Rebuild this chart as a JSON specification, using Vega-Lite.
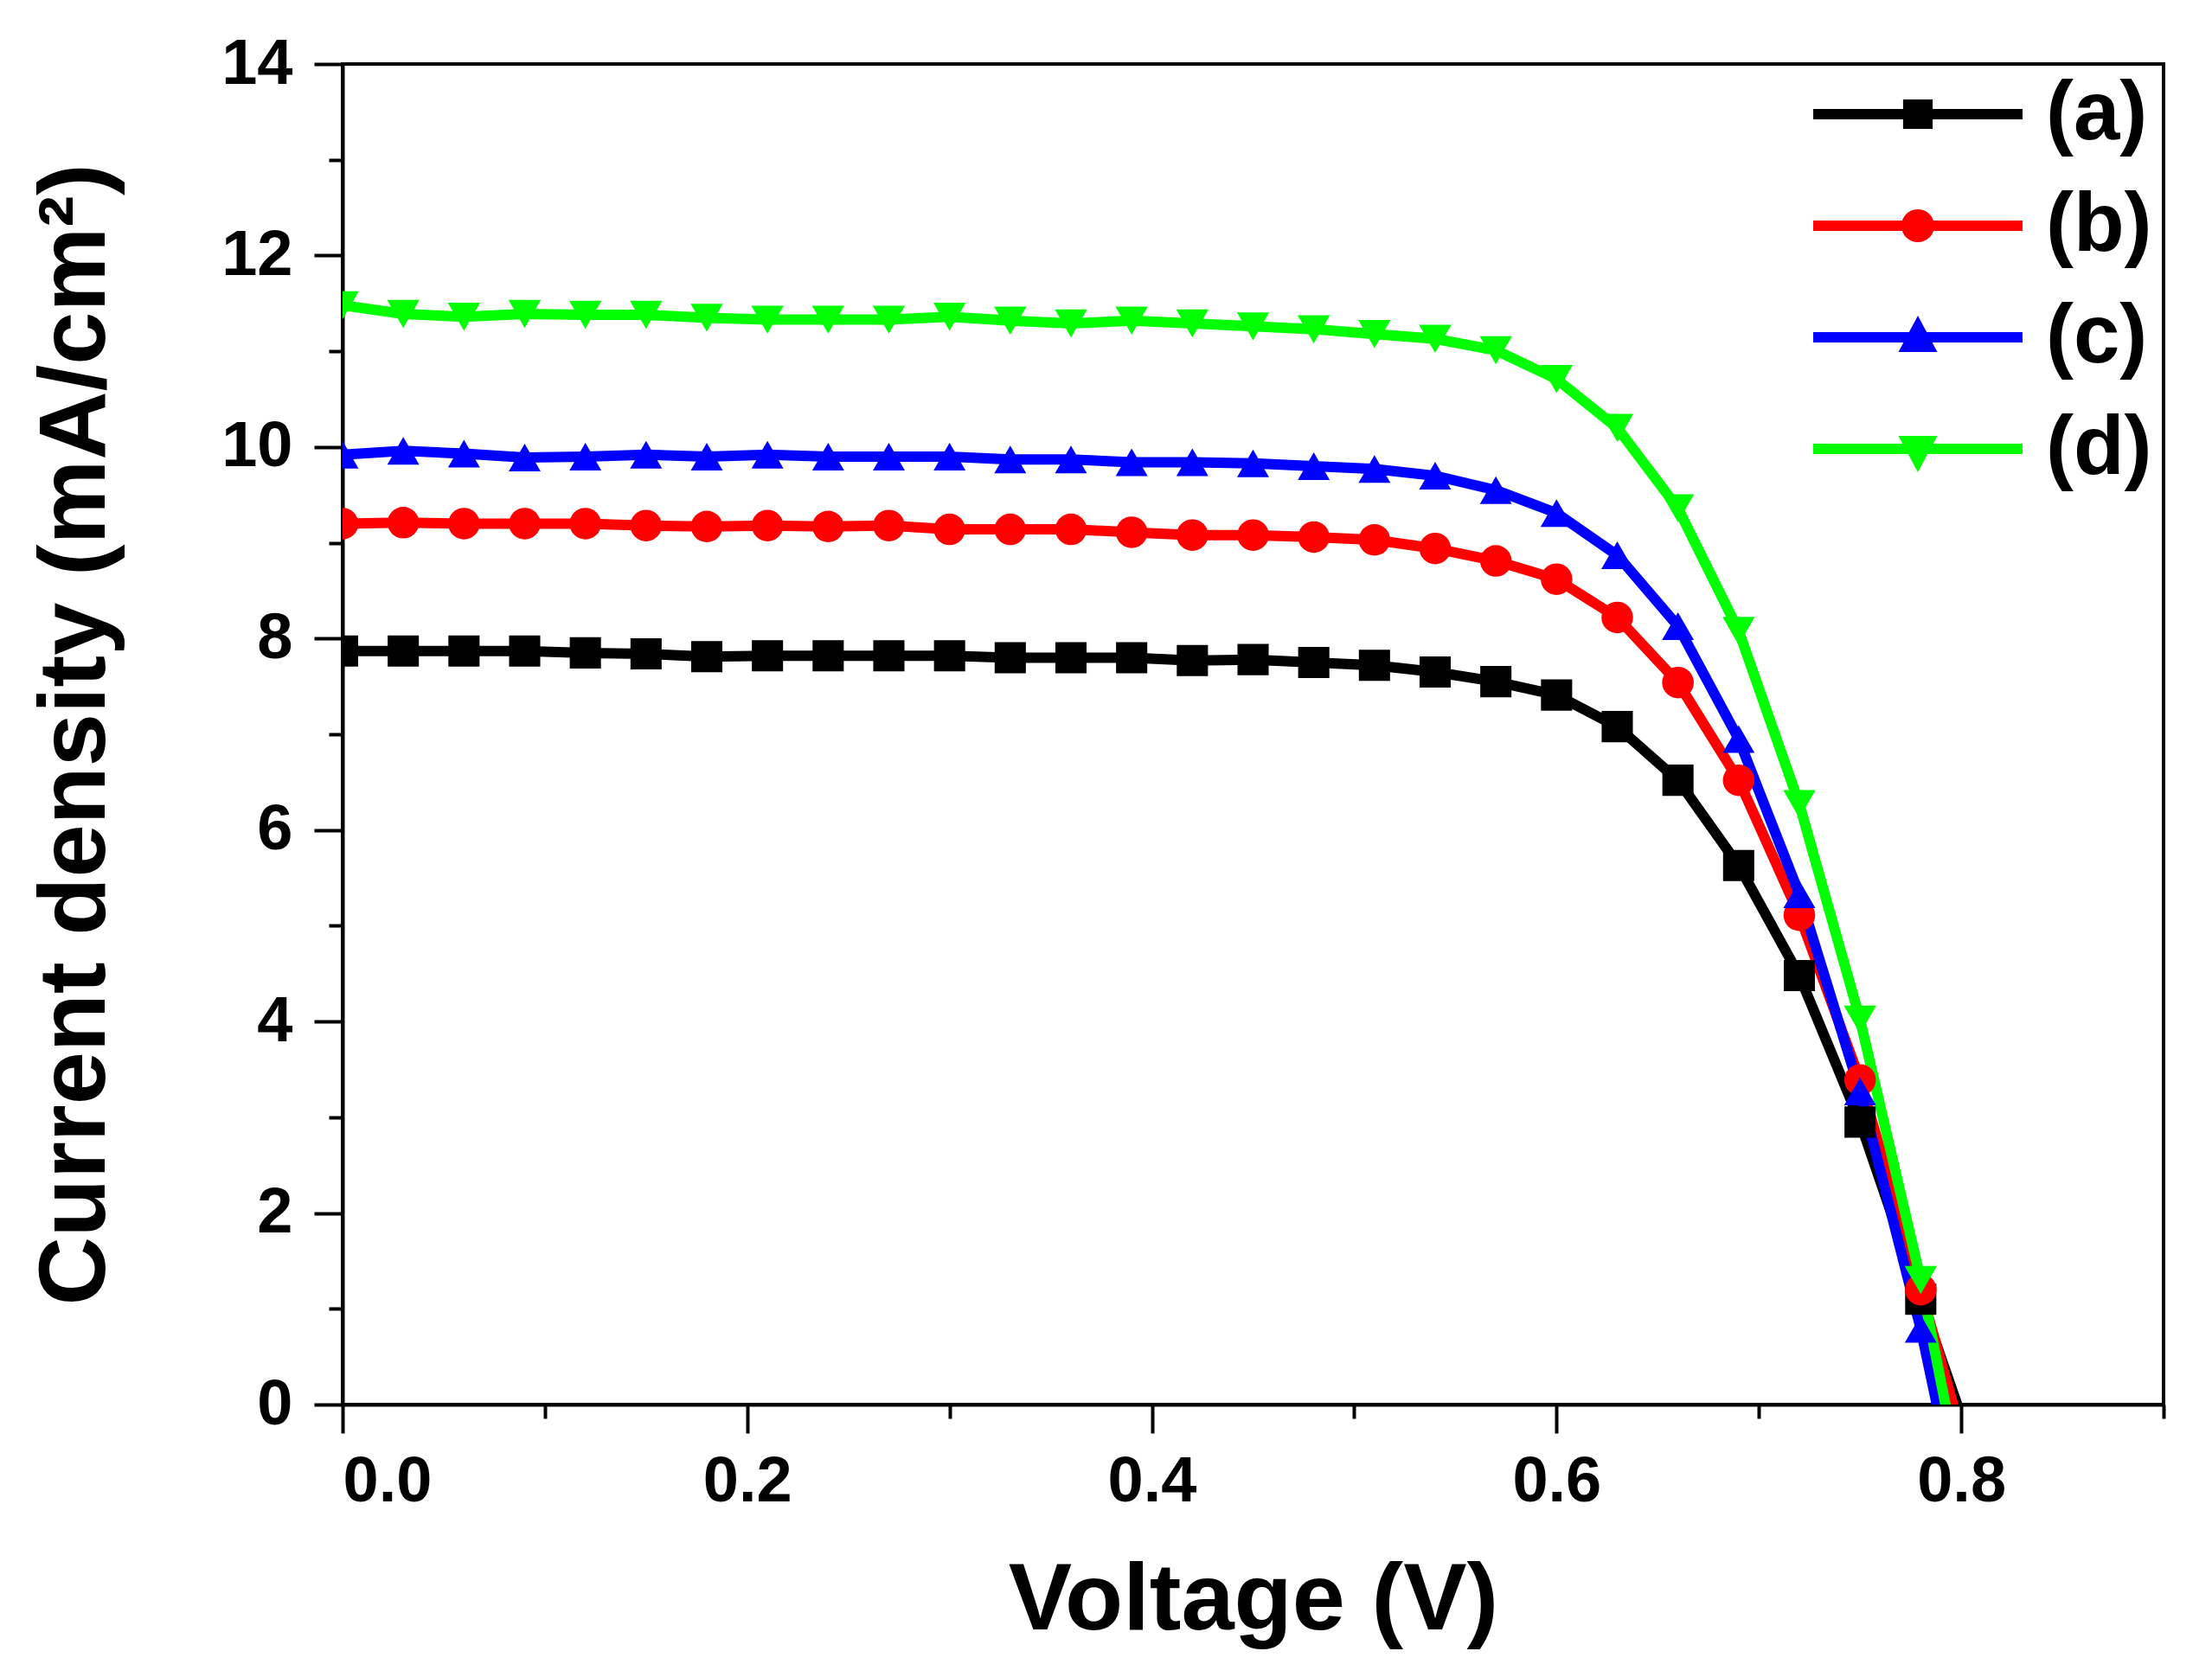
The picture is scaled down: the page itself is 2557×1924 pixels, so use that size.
{
  "$schema": "https://vega.github.io/schema/vega-lite/v6.json",
  "width": 2105,
  "height": 1550,
  "autosize": {"type": "none"},
  "padding": {"left": 396, "top": 74, "right": 56, "bottom": 300},
  "background": "white",
  "config": {
    "font": "Liberation Sans",
    "view": {"stroke": "black", "strokeWidth": 4},
    "axis": {
      "grid": false,
      "domainColor": "black",
      "domainWidth": 4,
      "tickColor": "black",
      "tickWidth": 4,
      "labelColor": "black",
      "labelFont": "Liberation Sans",
      "labelFontWeight": "bold",
      "labelFontSize": 74,
      "titleColor": "black",
      "titleFont": "Liberation Sans",
      "titleFontWeight": "bold",
      "titleFontSize": 110
    }
  },
  "data": {
    "values": [
      {"V": 0.00, "J": 7.87, "s": "(a)"}, {"V": 0.03, "J": 7.87, "s": "(a)"}, {"V": 0.06, "J": 7.87, "s": "(a)"}, {"V": 0.09, "J": 7.87, "s": "(a)"},
      {"V": 0.12, "J": 7.85, "s": "(a)"}, {"V": 0.15, "J": 7.84, "s": "(a)"}, {"V": 0.18, "J": 7.81, "s": "(a)"}, {"V": 0.21, "J": 7.82, "s": "(a)"},
      {"V": 0.24, "J": 7.82, "s": "(a)"}, {"V": 0.27, "J": 7.82, "s": "(a)"}, {"V": 0.30, "J": 7.82, "s": "(a)"}, {"V": 0.33, "J": 7.80, "s": "(a)"},
      {"V": 0.36, "J": 7.80, "s": "(a)"}, {"V": 0.39, "J": 7.80, "s": "(a)"}, {"V": 0.42, "J": 7.77, "s": "(a)"}, {"V": 0.45, "J": 7.78, "s": "(a)"},
      {"V": 0.48, "J": 7.75, "s": "(a)"}, {"V": 0.51, "J": 7.72, "s": "(a)"}, {"V": 0.54, "J": 7.65, "s": "(a)"}, {"V": 0.57, "J": 7.55, "s": "(a)"},
      {"V": 0.60, "J": 7.41, "s": "(a)"}, {"V": 0.63, "J": 7.08, "s": "(a)"}, {"V": 0.66, "J": 6.52, "s": "(a)"}, {"V": 0.69, "J": 5.63, "s": "(a)"},
      {"V": 0.72, "J": 4.48, "s": "(a)"}, {"V": 0.75, "J": 2.95, "s": "(a)"}, {"V": 0.78, "J": 1.10, "s": "(a)"}, {"V": 0.81, "J": -0.73, "s": "(a)"},

      {"V": 0.00, "J": 9.20, "s": "(b)"}, {"V": 0.03, "J": 9.21, "s": "(b)"}, {"V": 0.06, "J": 9.20, "s": "(b)"}, {"V": 0.09, "J": 9.20, "s": "(b)"},
      {"V": 0.12, "J": 9.20, "s": "(b)"}, {"V": 0.15, "J": 9.18, "s": "(b)"}, {"V": 0.18, "J": 9.17, "s": "(b)"}, {"V": 0.21, "J": 9.18, "s": "(b)"},
      {"V": 0.24, "J": 9.17, "s": "(b)"}, {"V": 0.27, "J": 9.18, "s": "(b)"}, {"V": 0.30, "J": 9.14, "s": "(b)"}, {"V": 0.33, "J": 9.14, "s": "(b)"},
      {"V": 0.36, "J": 9.14, "s": "(b)"}, {"V": 0.39, "J": 9.11, "s": "(b)"}, {"V": 0.42, "J": 9.08, "s": "(b)"}, {"V": 0.45, "J": 9.08, "s": "(b)"},
      {"V": 0.48, "J": 9.06, "s": "(b)"}, {"V": 0.51, "J": 9.03, "s": "(b)"}, {"V": 0.54, "J": 8.94, "s": "(b)"}, {"V": 0.57, "J": 8.81, "s": "(b)"},
      {"V": 0.60, "J": 8.62, "s": "(b)"}, {"V": 0.63, "J": 8.22, "s": "(b)"}, {"V": 0.66, "J": 7.54, "s": "(b)"}, {"V": 0.69, "J": 6.52, "s": "(b)"},
      {"V": 0.72, "J": 5.11, "s": "(b)"}, {"V": 0.75, "J": 3.39, "s": "(b)"}, {"V": 0.78, "J": 1.20, "s": "(b)"}, {"V": 0.81, "J": -1.05, "s": "(b)"},

      {"V": 0.00, "J": 9.92, "s": "(c)"}, {"V": 0.03, "J": 9.96, "s": "(c)"}, {"V": 0.06, "J": 9.93, "s": "(c)"}, {"V": 0.09, "J": 9.89, "s": "(c)"},
      {"V": 0.12, "J": 9.90, "s": "(c)"}, {"V": 0.15, "J": 9.92, "s": "(c)"}, {"V": 0.18, "J": 9.90, "s": "(c)"}, {"V": 0.21, "J": 9.92, "s": "(c)"},
      {"V": 0.24, "J": 9.90, "s": "(c)"}, {"V": 0.27, "J": 9.90, "s": "(c)"}, {"V": 0.30, "J": 9.90, "s": "(c)"}, {"V": 0.33, "J": 9.87, "s": "(c)"},
      {"V": 0.36, "J": 9.87, "s": "(c)"}, {"V": 0.39, "J": 9.84, "s": "(c)"}, {"V": 0.42, "J": 9.84, "s": "(c)"}, {"V": 0.45, "J": 9.83, "s": "(c)"},
      {"V": 0.48, "J": 9.80, "s": "(c)"}, {"V": 0.51, "J": 9.77, "s": "(c)"}, {"V": 0.54, "J": 9.70, "s": "(c)"}, {"V": 0.57, "J": 9.55, "s": "(c)"},
      {"V": 0.60, "J": 9.31, "s": "(c)"}, {"V": 0.63, "J": 8.87, "s": "(c)"}, {"V": 0.66, "J": 8.13, "s": "(c)"}, {"V": 0.69, "J": 6.95, "s": "(c)"},
      {"V": 0.72, "J": 5.33, "s": "(c)"}, {"V": 0.75, "J": 3.27, "s": "(c)"}, {"V": 0.78, "J": 0.79, "s": "(c)"}, {"V": 0.81, "J": -2.2, "s": "(c)"},

      {"V": 0.00, "J": 11.48, "s": "(d)"}, {"V": 0.03, "J": 11.39, "s": "(d)"}, {"V": 0.06, "J": 11.36, "s": "(d)"}, {"V": 0.09, "J": 11.39, "s": "(d)"},
      {"V": 0.12, "J": 11.38, "s": "(d)"}, {"V": 0.15, "J": 11.38, "s": "(d)"}, {"V": 0.18, "J": 11.35, "s": "(d)"}, {"V": 0.21, "J": 11.33, "s": "(d)"},
      {"V": 0.24, "J": 11.33, "s": "(d)"}, {"V": 0.27, "J": 11.33, "s": "(d)"}, {"V": 0.30, "J": 11.36, "s": "(d)"}, {"V": 0.33, "J": 11.32, "s": "(d)"},
      {"V": 0.36, "J": 11.29, "s": "(d)"}, {"V": 0.39, "J": 11.32, "s": "(d)"}, {"V": 0.42, "J": 11.29, "s": "(d)"}, {"V": 0.45, "J": 11.26, "s": "(d)"},
      {"V": 0.48, "J": 11.23, "s": "(d)"}, {"V": 0.51, "J": 11.18, "s": "(d)"}, {"V": 0.54, "J": 11.13, "s": "(d)"}, {"V": 0.57, "J": 11.01, "s": "(d)"},
      {"V": 0.60, "J": 10.71, "s": "(d)"}, {"V": 0.63, "J": 10.20, "s": "(d)"}, {"V": 0.66, "J": 9.36, "s": "(d)"}, {"V": 0.69, "J": 8.08, "s": "(d)"},
      {"V": 0.72, "J": 6.27, "s": "(d)"}, {"V": 0.75, "J": 4.02, "s": "(d)"}, {"V": 0.78, "J": 1.30, "s": "(d)"}, {"V": 0.81, "J": -1.9, "s": "(d)"}
    ]
  },
  "resolve": {
    "scale": {"shape": "independent"},
    "axis": {"x": "independent", "y": "independent"},
    "legend": {"color": "independent", "shape": "independent"}
  },
  "layer": [
    {
      "mark": {"type": "line", "strokeWidth": 12, "clip": true},
      "encoding": {
        "x": {
          "field": "V", "type": "quantitative",
          "scale": {"domain": [0, 0.9], "nice": false, "zero": false},
          "axis": {
            "orient": "bottom", "title": "Voltage (V)",
            "values": [0, 0.2, 0.4, 0.6, 0.8], "format": ".1f",
            "tickSize": 33, "labelPadding": 20, "titlePadding": 46
          }
        },
        "y": {
          "field": "J", "type": "quantitative",
          "scale": {"domain": [0, 14], "nice": false},
          "axis": {
            "orient": "left", "title": "Current density (mA/cm²)",
            "values": [0, 2, 4, 6, 8, 10, 12, 14],
            "tickSize": 33, "labelPadding": 25, "titlePadding": 112
          }
        },
        "color": {
          "field": "s", "type": "nominal",
          "scale": {"domain": ["(a)", "(b)", "(c)", "(d)"], "range": ["#000000", "#ff0000", "#0000ff", "#00ff00"]},
          "legend": null
        }
      }
    },
    {
      "mark": {"type": "point", "filled": true, "opacity": 1, "clip": true},
      "encoding": {
        "x": {
          "field": "V", "type": "quantitative",
          "axis": {
            "orient": "bottom", "title": null, "labels": false, "domain": false,
            "values": [0.1, 0.3, 0.5, 0.7, 0.9], "tickSize": 16
          }
        },
        "y": {
          "field": "J", "type": "quantitative",
          "axis": {
            "orient": "left", "title": null, "labels": false, "domain": false,
            "values": [1, 3, 5, 7, 9, 11, 13], "tickSize": 16
          }
        },
        "color": {"field": "s", "type": "nominal", "legend": null},
        "shape": {
          "field": "s", "type": "nominal",
          "scale": {"domain": ["(a)", "(b)", "(c)", "(d)"], "range": ["square", "circle", "triangle-up", "triangle-down"]},
          "legend": null
        },
        "size": {
          "field": "s", "type": "nominal",
          "scale": {"domain": ["(a)", "(b)", "(c)", "(d)"], "range": [1300, 1400, 2400, 2400]},
          "legend": null
        }
      }
    },
    {
      "mark": {"type": "point", "filled": true, "opacity": 0, "clip": true},
      "encoding": {
        "x": {"field": "V", "type": "quantitative", "axis": null},
        "y": {"field": "J", "type": "quantitative", "axis": null},
        "color": {
          "field": "s", "type": "nominal",
          "legend": {
            "orient": "none", "legendX": 1773, "legendY": 10, "title": null,
            "padding": 0, "symbolSize": 1296, "symbolStrokeWidth": 0, "symbolOpacity": 1,
            "labelOffset": 100, "rowPadding": 33, "labelFontSize": 96, "labelFontWeight": "bold",
            "labelFont": "Liberation Sans", "labelColor": "black", "labelLimit": 400
          }
        },
        "shape": {
          "field": "s", "type": "nominal",
          "scale": {
            "domain": ["(a)", "(b)", "(c)", "(d)"],
            "range": [
              "M-6.72,-0.33H6.72V0.33H-6.72Z M-0.95,-0.95H0.95V0.95H-0.95Z",
              "M-6.72,-0.33H6.72V0.33H-6.72Z M-1.06,0A1.06,1.06 0 1,1 1.06,0A1.06,1.06 0 1,1 -1.06,0Z",
              "M-6.72,-0.33H6.72V0.33H-6.72Z M0,-1.39L1.25,0.94L-1.25,0.94Z",
              "M-6.72,-0.33H6.72V0.33H-6.72Z M-1.25,-0.83L1.25,-0.83L0,1.5Z"
            ]
          },
          "legend": {
            "orient": "none", "legendX": 1773, "legendY": 10, "title": null,
            "padding": 0, "symbolSize": 1296, "symbolStrokeWidth": 0, "symbolOpacity": 1,
            "labelOffset": 100, "rowPadding": 33, "labelFontSize": 96, "labelFontWeight": "bold",
            "labelFont": "Liberation Sans", "labelColor": "black", "labelLimit": 400
          }
        }
      }
    }
  ]
}
